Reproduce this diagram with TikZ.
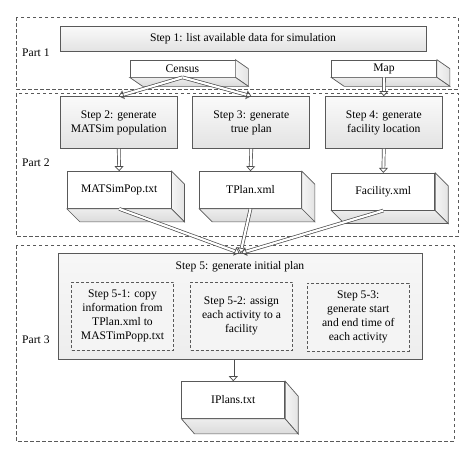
\documentclass[tikz,border=0pt]{standalone}
\usepackage{fontspec}
\setmainfont{Liberation Serif}
\usetikzlibrary{arrows.meta,calc}

\tikzset{
	partbox/.style={draw=gray!70!black, line width=0.6pt, dash pattern=on 3.5pt off 2.5pt},
	partlabel/.style={anchor=west, inner sep=0pt},
	stepbox/.style={draw=gray!70!black, line width=0.7pt, top color=gray!4, bottom color=gray!22, align=center, inner sep=2pt},
	subbox/.style={draw=gray!70!black, line width=0.6pt, dash pattern=on 3pt off 2pt, fill=gray!9, align=center, minimum width=102pt, minimum height=68pt},
	filebox/.style={draw=gray!70!black, line width=0.7pt, fill=white, minimum width=104pt, minimum height=37pt},
	sideface/.style={draw=gray!70!black, line width=0.7pt, left color=gray!8, right color=gray!22},
	bottomface/.style={draw=gray!70!black, line width=0.7pt, top color=gray!14, bottom color=gray!28},
	dblarrow/.style={draw=gray!60!black, line width=0.7pt, double=white, double distance=2.2pt, -{Triangle[open, length=5pt, width=9pt]}},
}

\begin{document}
\begin{tikzpicture}[x=1pt, y=-1pt, font=\fontsize{11.6}{14}\selectfont]
	% Fix the page size
	\useasboundingbox (0,0) rectangle (474,458);

	% Dashed frames of the three parts
	\draw[partbox] (16,17) rectangle (458,89);
	\draw[partbox] (16,93) rectangle (458,236);
	\draw[partbox] (16,245) rectangle (454,441);
	\node[partlabel] (part1) at (22,53) {Part 1};
	\node[partlabel] (part2) at (22,163) {Part 2};
	\node[partlabel] (part3) at (22,340) {Part 3};

	% Part 1: available data
	\node[stepbox, minimum width=366pt, minimum height=25pt] (step1) at (243,38.5) {Step 1: list available data for simulation};
	\node[filebox, minimum height=17pt, minimum width=105pt] (census) at (182.5,68.5) {Census};
	\node[filebox, minimum height=17pt, minimum width=105pt] (map) at (384,68.5) {Map};

	% Part 2: steps 2-4 and their output files
	\node[stepbox, minimum width=117pt, minimum height=52pt] (step2) at (118.7,122.5) {Step 2: generate\\MATSim population};
	\node[stepbox, minimum width=117pt, minimum height=52pt] (step3) at (251.3,122.5) {Step 3: generate\\true plan};
	\node[stepbox, minimum width=117pt, minimum height=52pt] (step4) at (383.8,122.5) {Step 4: generate\\facility location};
	\node[filebox] (pop) at (119.2,190) {MATSimPop.txt};
	\node[filebox, minimum width=102pt] (tplan) at (250.5,190) {TPlan.xml};
	\node[filebox, minimum width=103pt] (fac) at (383.3,191.7) {Facility.xml};

	% Part 3: step 5 with its three sub-steps
	\node[stepbox, minimum width=364pt, minimum height=106pt, top color=gray!6, bottom color=gray!14] (step5) at (240.5,306.3) {};
	\node[inner sep=0pt] (step5title) at (240,267) {Step 5: generate initial plan};
	\node[subbox] (step51) at (122.5,315.8) {Step 5-1: copy\\information from\\TPlan.xml to\\MASTimPopp.txt};
	\node[subbox] (step52) at (241.5,315.8) {Step 5-2: assign\\each activity to a\\facility};
	\node[subbox] (step53) at (358.3,317) {Step 5-3:\\generate start\\and end time of\\each activity};
	\node[filebox, minimum width=103pt] (iplans) at (233.3,400) {IPlans.txt};

	% 3D faces of the file boxes (name/depth)
	\foreach \n/\d in {census/9, map/9, pop/13, tplan/13, fac/13, iplans/15} {
		\draw[sideface] (\n.north east) -- ++(13,\d) -- ($(\n.south east)+(13,\d)$) -- (\n.south east) -- cycle;
		\draw[bottomface] (\n.south west) -- ($(\n.south west)+(13,\d)$) -- ($(\n.south east)+(13,\d)$) -- (\n.south east) -- cycle;
	}

	% Hollow arrows
	\coordinate (s5out) at (iplans.north |- step5.south);
	\draw[dblarrow] (census.south) -- (step2.north);
	\draw[dblarrow] (census.south) -- (step3.north);
	\draw[dblarrow] (map.south) -- (step4.north);
	\draw[dblarrow] (step2.south) -- (pop.north);
	\draw[dblarrow] (step3.south) -- (tplan.north);
	\draw[dblarrow] (step4.south) -- (fac.north);
	\draw[dblarrow] (pop.south) -- ($(step5.north)+(-1,0)$);
	\draw[dblarrow] (tplan.south) -- (step5.north);
	\draw[dblarrow] (fac.south) -- ($(step5.north)+(1,0)$);
	\draw[dblarrow] (s5out) -- (iplans.north);
\end{tikzpicture}
\end{document}
